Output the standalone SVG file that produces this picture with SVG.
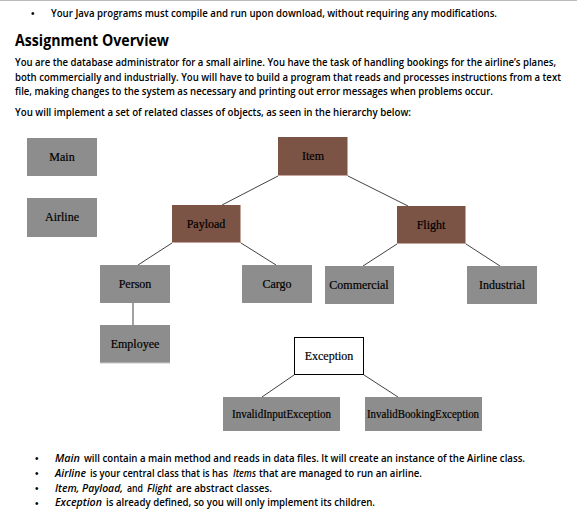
<svg xmlns="http://www.w3.org/2000/svg" width="577" height="530" viewBox="0 0 577 530">
<style>
.body{font-family:"Open Sans","Liberation Sans",sans-serif;font-size:10px;font-weight:600;fill:#000}
.it{font-style:italic}
.h{font-family:"Open Sans","Liberation Sans",sans-serif;font-size:15.5px;font-weight:700;fill:#000}
.node text{font-family:"Liberation Serif","DejaVu Serif",serif;font-size:12px;fill:#000;stroke:#000;stroke-width:0.2;text-anchor:middle}
.gray{fill:#8d8d8d}
.brown{fill:#7b5446}
.white{fill:#fff;stroke:#000;stroke-width:1}
.hl{stroke:#c4a49c;stroke-width:1;fill:none}
.edge{stroke:#111;stroke-width:0.8;fill:none}
.bul{font-family:"Liberation Sans",sans-serif;font-size:10px;fill:#000}
</style>
<rect x="0" y="0" width="577" height="530" fill="#fff"/>
<line x1="0" y1="0.5" x2="577" y2="0.5" stroke="#bbb" stroke-width="1"/>
<text class="bul" x="31" y="17">•</text>
<text class="h" x="15" y="46" textLength="154" lengthAdjust="spacingAndGlyphs">Assignment Overview</text>
<g transform="scale(0.82,1)">
<text class="body" x="62.2" y="17" textLength="543.9" lengthAdjust="spacingAndGlyphs">Your Java programs must compile and run upon download, without requiring any modifications.</text>
<text class="body" x="18.29" y="66.5" textLength="659.76" lengthAdjust="spacingAndGlyphs">You are the database administrator for a small airline. You have the task of handling bookings for the airline’s planes,</text>
<text class="body" x="18.29" y="81.5" textLength="665.85" lengthAdjust="spacingAndGlyphs">both commercially and industrially. You will have to build a program that reads and processes instructions from a text</text>
<text class="body" x="18.29" y="95.5" textLength="582.93" lengthAdjust="spacingAndGlyphs">file, making changes to the system as necessary and printing out error messages when problems occur.</text>
<text class="body" x="18.29" y="116" textLength="482.93" lengthAdjust="spacingAndGlyphs">You will implement a set of related classes of objects, as seen in the hierarchy below:</text>
</g>

<g id="connectors">
<line class="edge" x1="278" y1="176" x2="222" y2="205"/>
<line class="edge" x1="348" y1="176" x2="408" y2="206"/>
<line class="edge" x1="172" y1="243" x2="138" y2="265"/>
<line class="edge" x1="241" y1="243" x2="276" y2="265"/>
<line class="edge" x1="397" y1="244" x2="363" y2="266"/>
<line class="edge" x1="466" y1="244" x2="500" y2="266"/>
<line class="edge" x1="133" y1="303" x2="133" y2="325"/>
<line class="edge" x1="294" y1="375" x2="262" y2="397"/>
<line class="edge" x1="364" y1="375" x2="398" y2="397"/>
</g>

<g id="main" class="node"><rect class="gray" x="27" y="138" width="70" height="38"/><text x="62" y="161">Main</text></g>
<g id="airline" class="node"><rect class="gray" x="27" y="198" width="70" height="39"/><text x="62" y="221">Airline</text></g>
<g id="item" class="node"><rect class="brown" x="278" y="137" width="70" height="39"/><path class="hl" d="M347.5 137V175.5H278"/><text x="313" y="160">Item</text></g>
<g id="payload" class="node"><rect class="brown" x="172" y="205" width="69" height="38"/><path class="hl" d="M240.5 205V242.5H172"/><text x="206" y="228">Payload</text></g>
<g id="flight" class="node"><rect class="brown" x="397" y="206" width="69" height="38"/><path class="hl" d="M465.5 206V243.5H397"/><text x="431" y="229">Flight</text></g>
<g id="person" class="node"><rect class="gray" x="100" y="265" width="70" height="38"/><text x="135" y="288">Person</text></g>
<g id="cargo" class="node"><rect class="gray" x="242" y="265" width="70" height="38"/><text x="277" y="288">Cargo</text></g>
<g id="commercial" class="node"><rect class="gray" x="325" y="266" width="69" height="38"/><text x="359" y="289">Commercial</text></g>
<g id="industrial" class="node"><rect class="gray" x="467" y="266" width="70" height="38"/><text x="502" y="289">Industrial</text></g>
<g id="employee" class="node"><rect class="gray" x="100" y="325" width="70" height="38"/><line x1="100" y1="363" x2="170" y2="363" stroke="#c8c8c8"/><text x="135" y="348">Employee</text></g>
<g id="exception" class="node"><rect class="white" x="294.5" y="337.5" width="69" height="37"/><text x="329" y="360">Exception</text></g>
<g id="invalidinput" class="node"><rect class="gray" x="223" y="397" width="117" height="34"/><text x="281.5" y="418" textLength="99" lengthAdjust="spacingAndGlyphs">InvalidInputException</text></g>
<g id="invalidbooking" class="node"><rect class="gray" x="365" y="397" width="117" height="34"/><text x="423" y="418" textLength="112" lengthAdjust="spacingAndGlyphs">InvalidBookingException</text></g>

<text class="bul" x="35" y="462">•</text>
<text class="bul" x="35" y="477">•</text>
<text class="bul" x="35" y="492">•</text>
<text class="bul" x="35" y="506.5">•</text>
<g transform="scale(0.82,1)">
<text class="body it" x="67.07" y="462" textLength="30.49" lengthAdjust="spacingAndGlyphs">Main</text>
<text class="body" x="102.44" y="462" textLength="537.8" lengthAdjust="spacingAndGlyphs">will contain a main method and reads in data files. It will create an instance of the Airline class.</text>
<text class="body it" x="67.07" y="477" textLength="37.8" lengthAdjust="spacingAndGlyphs">Airline</text>
<text class="body" x="109.76" y="477" textLength="168.29" lengthAdjust="spacingAndGlyphs">is your central class that is has</text>
<text class="body it" x="284.15" y="477" textLength="28.05" lengthAdjust="spacingAndGlyphs">Items</text>
<text class="body" x="315.85" y="477" textLength="198.78" lengthAdjust="spacingAndGlyphs">that are managed to run an airline.</text>
<text class="body it" x="67.07" y="492" textLength="82.93" lengthAdjust="spacingAndGlyphs">Item, Payload,</text>
<text class="body" x="154.88" y="492" textLength="19.51" lengthAdjust="spacingAndGlyphs">and</text>
<text class="body it" x="179.27" y="492" textLength="30.49" lengthAdjust="spacingAndGlyphs">Flight</text>
<text class="body" x="214.63" y="492" textLength="117.07" lengthAdjust="spacingAndGlyphs">are abstract classes.</text>
<text class="body it" x="67.07" y="506.5" textLength="57.32" lengthAdjust="spacingAndGlyphs">Exception</text>
<text class="body" x="129.27" y="506.5" textLength="328.05" lengthAdjust="spacingAndGlyphs">is already defined, so you will only implement its children.</text>
</g>
</svg>
